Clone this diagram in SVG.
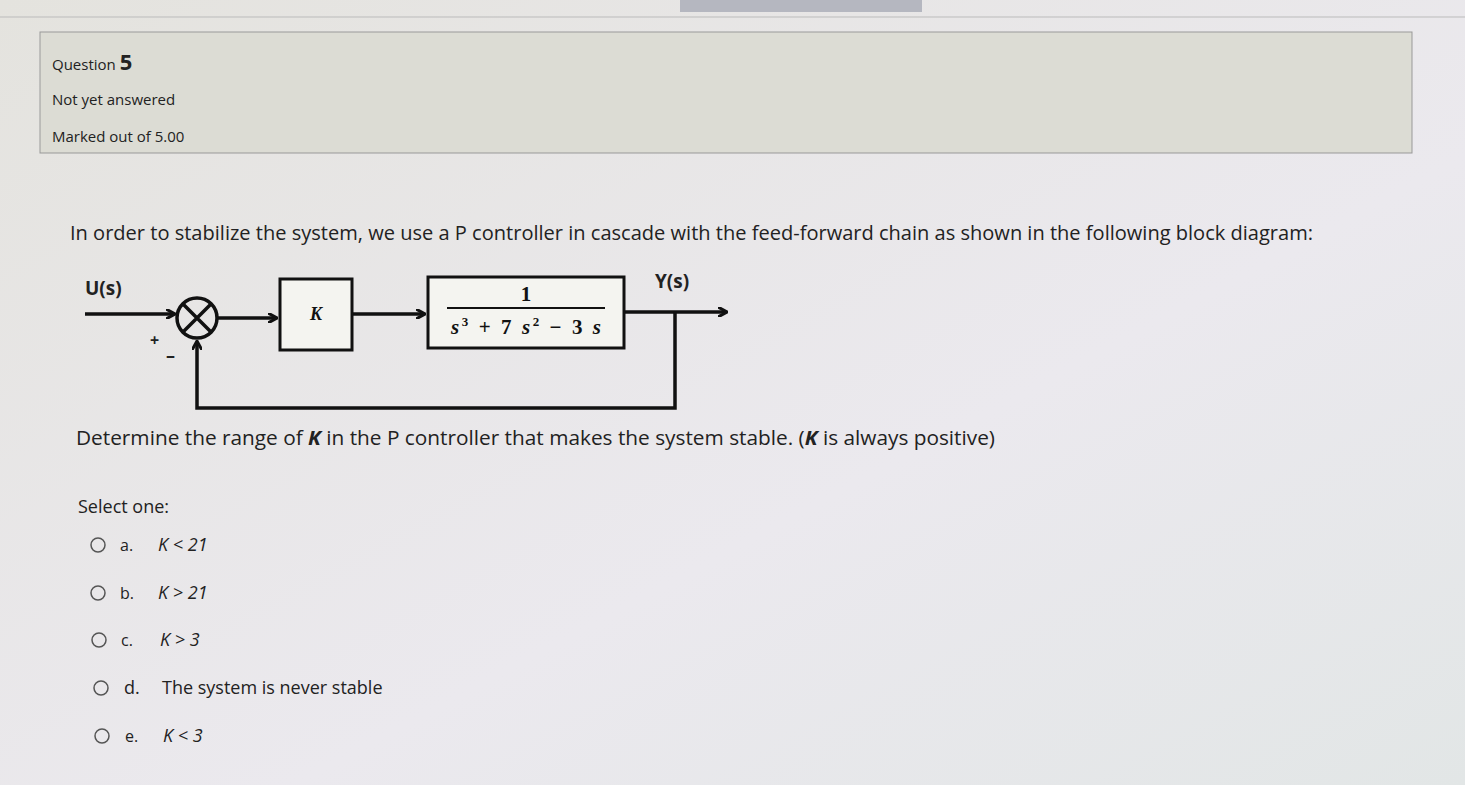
<svg xmlns="http://www.w3.org/2000/svg" width="1465" height="785" viewBox="0 0 1465 785">
<style>
.t{font-family:"Open Sans","Liberation Sans",sans-serif;fill:#222}
.ln{stroke:#111;stroke-width:3.5;fill:none}
.bx{stroke:#111;stroke-width:3;fill:#f4f4f0}
.m{font-family:"Liberation Serif",serif;font-weight:bold;fill:#111}
.rad{fill:none;stroke:#555;stroke-width:1.5}
</style>
<defs>
<marker id="ah" markerWidth="10" markerHeight="10" refX="8" refY="5" orient="auto" markerUnits="userSpaceOnUse"><path d="M0,0 L9,5 L0,10" fill="none" stroke="#111" stroke-width="3"/></marker>
<linearGradient id="bg" x1="0" y1="0" x2="1" y2="1"><stop offset="0" stop-color="#e4e3de"/><stop offset="0.6" stop-color="#ebe9ee"/><stop offset="1" stop-color="#e2e6e6"/></linearGradient>
</defs>
<rect width="1465" height="785" fill="url(#bg)"/>
<rect x="680" y="0" width="242" height="12" fill="#b5b7c0"/>
<line x1="0" y1="17" x2="1465" y2="17" stroke="#bbb"/>
<rect x="40" y="32" width="1372" height="121" fill="#dcdcd4" stroke="#999"/>
<text class="t" x="52" y="70" font-size="15">Question <tspan font-size="22" font-weight="bold">5</tspan></text>
<text class="t" x="52" y="105" font-size="15">Not yet answered</text>
<text class="t" x="52" y="142" font-size="15">Marked out of 5.00</text>
<text class="t" x="70" y="240" font-size="20" textLength="1243" lengthAdjust="spacingAndGlyphs">In order to stabilize the system, we use a P controller in cascade with the feed-forward chain as shown in the following block diagram:</text>
<g id="connectors">
<path class="ln" d="M85,314 H174" marker-end="url(#ah)"/>
<path class="ln" d="M217,318 H276" marker-end="url(#ah)"/>
<path class="ln" d="M352,314 H424" marker-end="url(#ah)"/>
<path class="ln" d="M624,312 H726" marker-end="url(#ah)"/>
<path class="ln" d="M675,312 V408 H197 V342" marker-end="url(#ah)"/>
</g>
<g id="sum">
<circle cx="197" cy="318" r="20" fill="none" stroke="#111" stroke-width="3.5"/>
<path class="ln" d="M183,304 L211,332 M211,304 L183,332"/>
<text class="t" x="150" y="346" font-size="16" font-weight="bold">+</text>
<text class="t" x="166" y="362" font-size="18" font-weight="bold">–</text>
</g>
<g id="labels">
<text class="t" x="85" y="295" font-size="19" font-weight="bold">U(s)</text>
<text class="t" x="655" y="288" font-size="19" font-weight="bold">Y(s)</text>
</g>
<g id="k"><rect class="bx" x="280" y="279" width="72" height="71"/><text class="m" x="316" y="320" font-size="18" font-style="italic" text-anchor="middle">K</text></g>
<g id="plant"><rect class="bx" x="428" y="277" width="196" height="71"/>
<text class="m" x="526" y="301" font-size="21" text-anchor="middle">1</text>
<line x1="447" y1="308" x2="605" y2="308" stroke="#111" stroke-width="2"/>
<text class="m" x="526" y="334" font-size="21" text-anchor="middle" textLength="150" lengthAdjust="spacing"><tspan font-style="italic">s</tspan><tspan font-size="13" dy="-8">3</tspan><tspan dy="8"> + 7 </tspan><tspan font-style="italic">s</tspan><tspan font-size="13" dy="-8">2</tspan><tspan dy="8"> − 3 </tspan><tspan font-style="italic">s</tspan></text></g>
<text class="t" x="76" y="445" font-size="20" textLength="919" lengthAdjust="spacingAndGlyphs">Determine the range of <tspan font-weight="bold" font-style="italic">K</tspan>  in the P controller that makes the system stable. (<tspan font-weight="bold" font-style="italic">K</tspan> is always positive)</text>
<text class="t" x="78" y="513" font-size="18">Select one:</text>
<g font-size="18">
<circle class="rad" cx="98" cy="545" r="7"/><text class="t" x="120" y="551" font-size="16">a.</text><text class="t" x="158" y="551" font-style="italic">K &lt; 21</text>
<circle class="rad" cx="98" cy="593" r="7"/><text class="t" x="120" y="599" font-size="16">b.</text><text class="t" x="158" y="599" font-style="italic">K &gt; 21</text>
<circle class="rad" cx="99" cy="640" r="7"/><text class="t" x="121" y="646" font-size="16">c.</text><text class="t" x="160" y="646" font-style="italic">K &gt; 3</text>
<circle class="rad" cx="101" cy="688" r="7"/><text class="t" x="124" y="694" font-size="18">d.</text><text class="t" x="162" y="694">The system is never stable</text>
<circle class="rad" cx="102" cy="736" r="7"/><text class="t" x="125" y="742" font-size="16">e.</text><text class="t" x="163" y="742" font-style="italic">K &lt; 3</text>
</g>
</svg>
